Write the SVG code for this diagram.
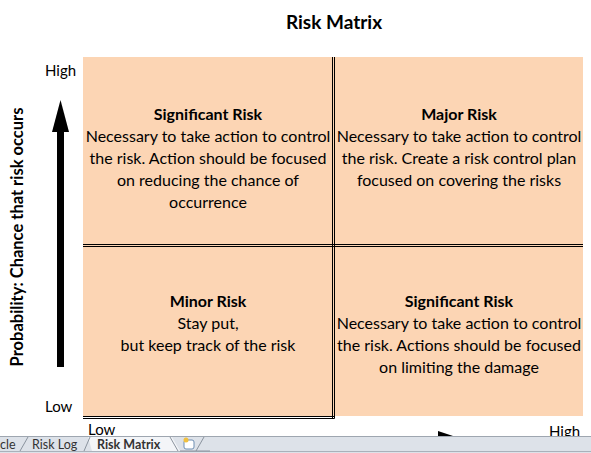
<svg xmlns="http://www.w3.org/2000/svg" width="591" height="453" viewBox="0 0 591 453">
<style>
text{font-family:Lato,"Liberation Sans",sans-serif;fill:#000}
.t{font-size:16px;text-anchor:middle}
.b{font-weight:bold}
.ax{font-size:15px}
.cell{fill:#fcd5b4}
.ln{stroke:#000;stroke-width:1;fill:none}
.tab{font-size:12.5px;fill:#333}
</style>
<rect width="591" height="453" fill="#fff"/>
<text x="334" y="29" font-size="19" class="b" text-anchor="middle">Risk Matrix</text>
<g id="quad-tl">
<rect class="cell" x="83" y="57" width="250" height="188"/>
<text class="t b" x="208" y="119.5">Significant Risk</text>
<text class="t" x="208" y="141.5">Necessary to take action to control</text>
<text class="t" x="208" y="163.5">the risk. Action should be focused</text>
<text class="t" x="208" y="185.5">on reducing the chance of</text>
<text class="t" x="208" y="207.5">occurrence</text>
</g>
<g id="quad-tr">
<rect class="cell" x="333" y="57" width="250" height="188"/>
<text class="t b" x="459" y="119.5">Major Risk</text>
<text class="t" x="459" y="141.5">Necessary to take action to control</text>
<text class="t" x="459" y="163.5">the risk. Create a risk control plan</text>
<text class="t" x="459" y="185.5">focused on covering the risks</text>
</g>
<g id="quad-bl">
<rect class="cell" x="83" y="245" width="250" height="171"/>
<text class="t b" x="208" y="306.5">Minor Risk</text>
<text class="t" x="208" y="328.5">Stay put,</text>
<text class="t" x="208" y="350.5">but keep track of the risk</text>
</g>
<g id="quad-br">
<rect class="cell" x="333" y="245" width="250" height="171"/>
<text class="t b" x="459" y="306.5">Significant Risk</text>
<text class="t" x="459" y="328.5">Necessary to take action to control</text>
<text class="t" x="459" y="350.5">the risk. Actions should be focused</text>
<text class="t" x="459" y="372.5">on limiting the damage</text>
</g>
<g id="grid-lines">
<path class="ln" d="M332.5 57V418.5M334.5 57V418.5M83 244.5H583M83 246.5H583M83 416.5H334.5M83 418.5H334.5"/>
</g>
<g id="connectors">
<path d="M57 132H64V367H57Z" fill="#000"/>
<path d="M60.5 100L69 132H52Z" fill="#000"/>
<path d="M438 431L456 437L438 443Z" fill="#000"/>
</g>
<g id="axis-labels">
<text class="ax" x="45" y="76">High</text>
<text class="ax" x="45" y="411.5">Low</text>
<text class="ax" x="88" y="435">Low</text>
<text class="ax" x="549" y="437">High</text>
<text class="b" font-size="16.5" transform="translate(23 237) rotate(-90)" text-anchor="middle">Probability: Chance that risk occurs</text>
</g>
<g id="tab-bar">
<rect x="0" y="436" width="591" height="17" fill="#dde2e9"/>
<path d="M0 436.5H591" stroke="#9ea6b0"/>
<path d="M0 451.5H591" stroke="#aab1ba"/>
<path d="M88 437H172L180 451H92Z" fill="#f3f5f8"/>
<path d="M20 451L28 437M84 451L90 437M170 437L178 451M196 451L204 437M180 451H210" stroke="#8a939e" fill="none"/>
<text class="tab" x="0" y="449">cle</text>
<text class="tab" x="32" y="449">Risk Log</text>
<text class="tab b" x="97" y="449">Risk Matrix</text>
<rect x="184" y="440" width="10" height="9" rx="2" fill="#fff" stroke="#6e8fb3"/>
<circle cx="186" cy="440" r="2.5" fill="#f0c040"/>
</g>
</svg>
